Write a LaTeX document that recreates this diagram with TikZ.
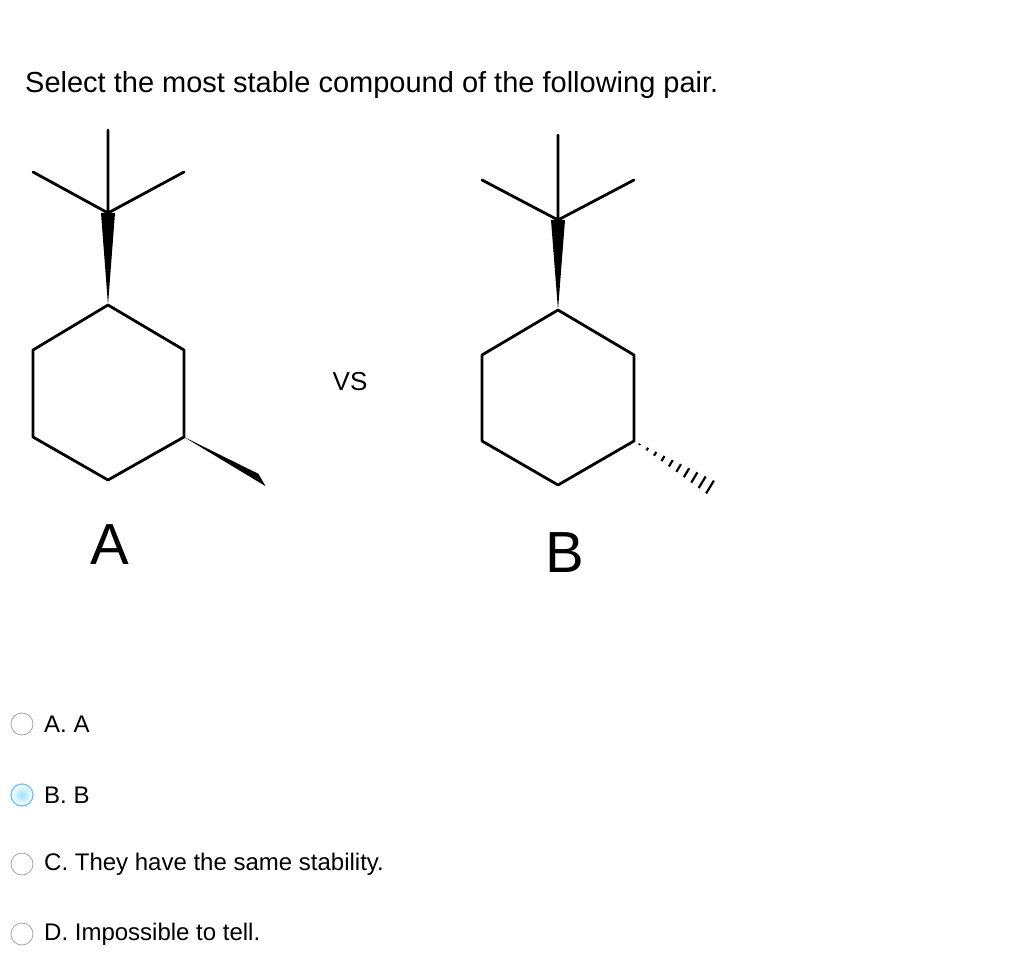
\documentclass[tikz,border=0pt]{standalone}
\usepackage{fontspec}
\setmainfont{Liberation Sans}
\usetikzlibrary{calc}
\begin{document}
\begin{tikzpicture}[x=1pt,y=-1pt,
  bond/.style={line width=2.8pt,line cap=round},
  lbl/.style={inner sep=0pt,anchor=west},
  radio/.style={circle,draw=gray!70,line width=0.8pt,minimum size=22pt,inner sep=0pt},
  radiosel/.style={circle,draw=blue!40!cyan!60,line width=1.2pt,minimum size=22pt,inner sep=0pt,inner color=blue!30!cyan!40,outer color=white}]
\useasboundingbox (0,0) rectangle (1024,968);
\node[lbl] (title) at (25,85) {\fontsize{29}{34}\selectfont Select the most stable compound of the following pair.};
% molecule A
\foreach \n/\x/\y in {a1/108/305,a2/184/350,a3/184/437,a4/108/480,a5/33/437,a6/33/350,aq/108/213,at/108/130,al/33/172,ar/184/172,am/262/480}
  \coordinate (\n) at (\x,\y);
\draw[bond,line join=round] (a1)--(a2)--(a3)--(a4)--(a5)--(a6)--cycle;
\draw[bond] (aq)--(at) (aq)--(al) (aq)--(ar);
\fill (a1) -- ($(aq)+(-7,0)$) -- ($(aq)+(7,0)$) -- cycle;
\fill (a3) -- ($(am)+(-3.6,-6.2)$) -- ($(am)+(3.6,6.2)$) -- cycle;
% molecule B
\foreach \n/\x/\y in {b1/558/310,b2/634/355,b3/634/441,b4/558/485,b5/482/441,b6/482/355,bq/558/220,bt/558/135,bl/482/180,br/634/180,bm/710/487}
  \coordinate (\n) at (\x,\y);
\draw[bond,line join=round] (b1)--(b2)--(b3)--(b4)--(b5)--(b6)--cycle;
\draw[bond] (bq)--(bt) (bq)--(bl) (bq)--(br);
\fill (b1) -- ($(bq)+(-7,0)$) -- ($(bq)+(7,0)$) -- cycle;
\foreach \t in {1,...,10}{
  \draw[line width=2.2pt] ($(b3)!{(\t-0.3)/9.7}!(bm)+({-0.518*0.75*\t},{0.855*0.75*\t})$) -- ($(b3)!{(\t-0.3)/9.7}!(bm)+({0.518*0.75*\t},{-0.855*0.75*\t})$);
}
\node (vs) at (350,382) {\fontsize{26}{30}\selectfont VS};
\node (la) at (110,545) {\fontsize{58}{66}\selectfont A};
\node (lb) at (565,553) {\fontsize{58}{66}\selectfont B};
% options
\node[radio] (r1) at (22,724) {};
\node[lbl] (o1) at (44,724) {\fontsize{24}{28}\selectfont A. A};
\node[radiosel] (r2) at (22,795) {};
\node[lbl] (o2) at (44,795) {\fontsize{24}{28}\selectfont B. B};
\node[radio] (r3) at (22,864) {};
\node[lbl] (o3) at (44,864) {\fontsize{24}{28}\selectfont C. They have the same stability.};
\node[radio] (r4) at (22,934) {};
\node[lbl] (o4) at (44,934) {\fontsize{24}{28}\selectfont D. Impossible to tell.};
\end{tikzpicture}
\end{document}
